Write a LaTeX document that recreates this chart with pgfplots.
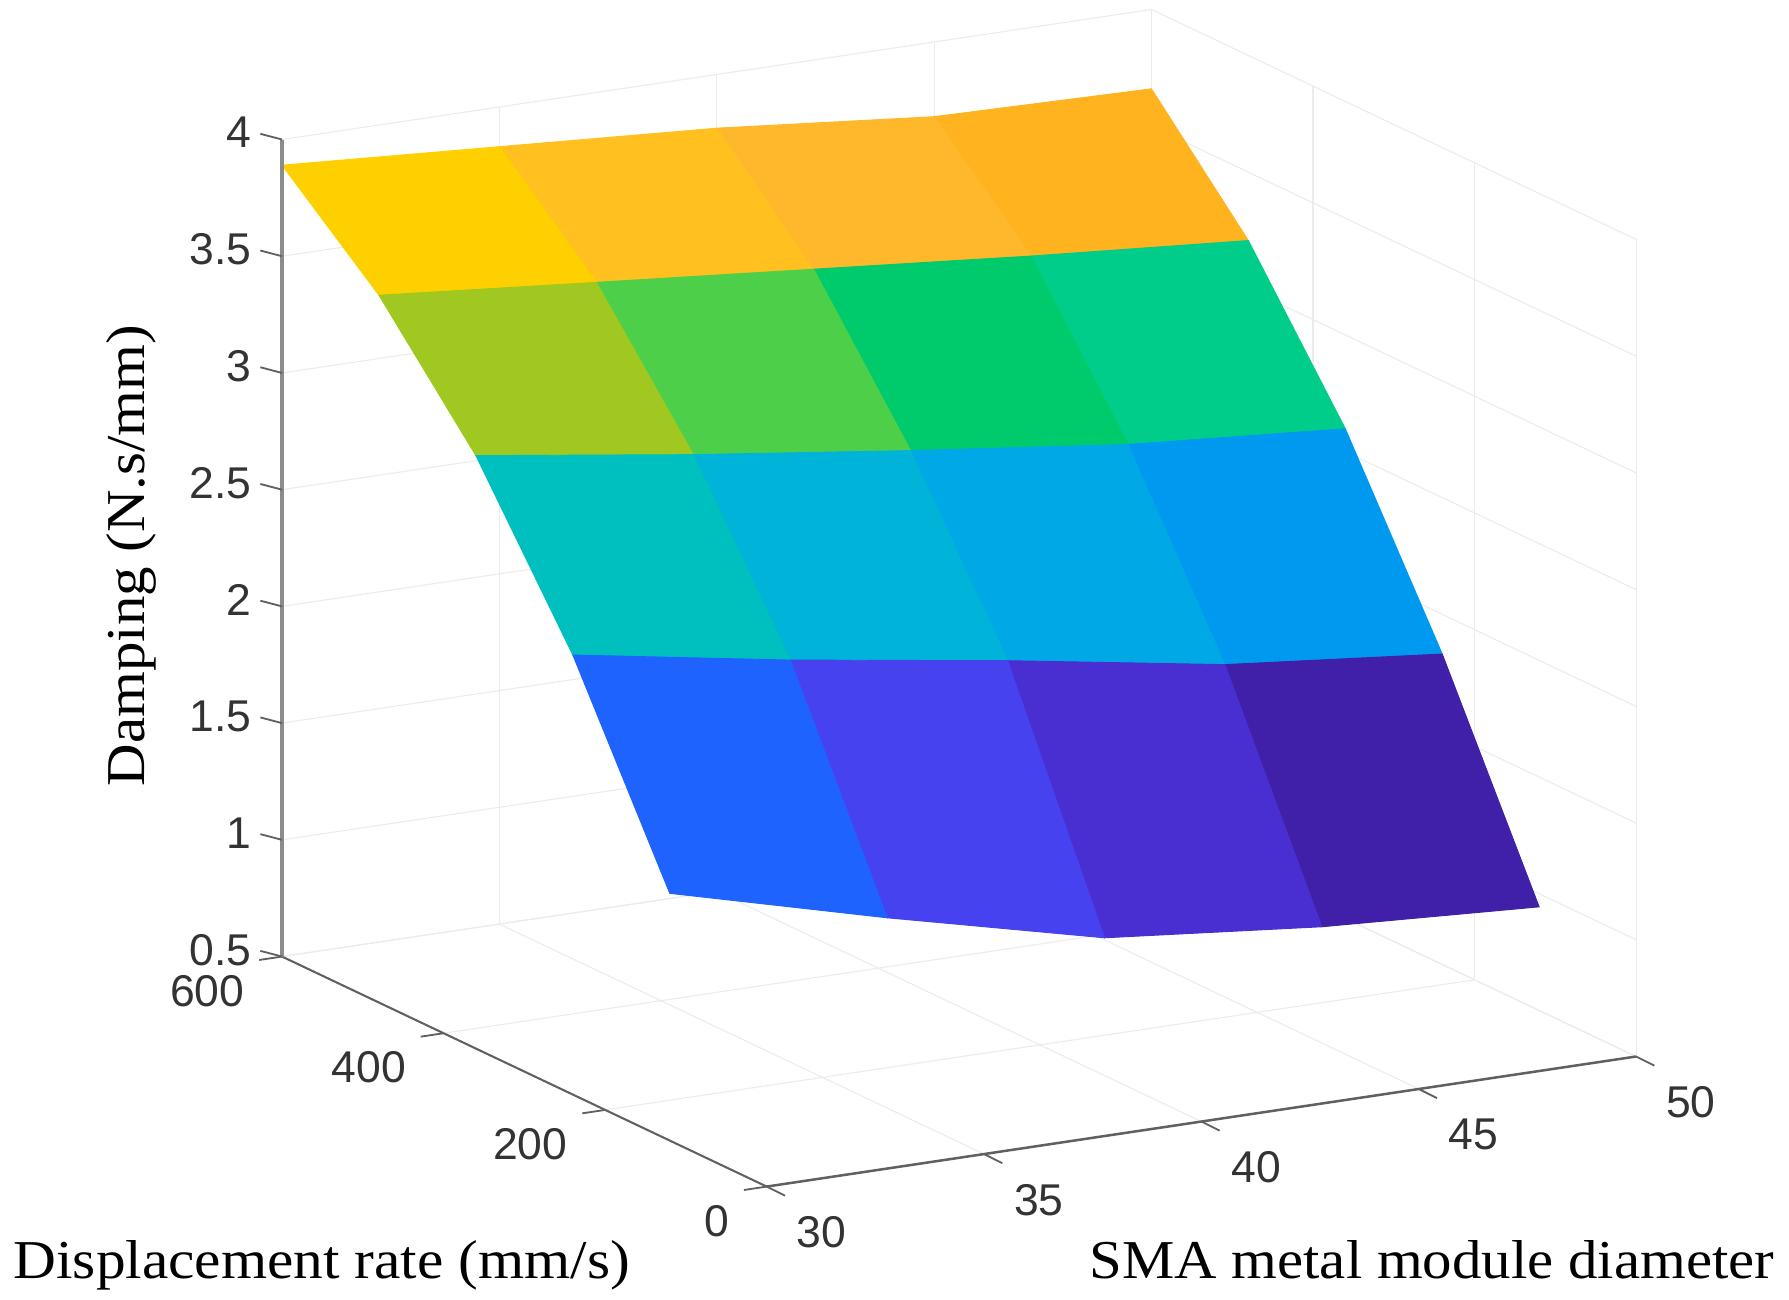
\documentclass[border=0pt]{standalone}
\usepackage{fontspec}
\setmainfont{Liberation Sans}
\newfontfamily\serifl{Liberation Serif}
\usepackage{graphicx}
\usepackage{pgfplots}
\pgfplotsset{compat=1.18}
\definecolor{axc}{HTML}{606060}
\definecolor{grd}{HTML}{ECECEC}
\begin{document}
\begin{tikzpicture}
\begin{axis}[
    x={(19.05pt,2.85pt)},
    y={(-0.354pt,0.168pt)},
    z={(0pt,102.3pt)},
    xmin=30, xmax=50,
    ymin=0, ymax=600,
    zmin=0.5, zmax=4,
    xtick={30,35,40,45,50},
    ytick={0,200,400,600},
    ztick={0.5,1,1.5,2,2.5,3,3.5,4},
    grid=major,
    major grid style={grd, line width=0.5pt},
    axis line style={draw=none},
    major tick length=0pt,
    tick style={draw=none},
    clip=false,
    /pgf/number format/assume math mode=true,
    tick label style={font=\fontsize{19.5}{22}\selectfont, text=black!80},
    xticklabel style={anchor=center, xshift=24pt, yshift=-20pt},
    yticklabel style={anchor=east, xshift=-13pt, yshift=-15pt},
    zticklabel style={anchor=east, xshift=-10pt, yshift=3pt},
]
\addplot3[surf, shader=flat corner, mesh/color input=explicit,
    mesh/rows=5, mesh/cols=5]
table[x=x, y=y, z=z, meta=c] {
x  y   z     c
30 600 3.89  rgb=1,.816,0
35 600 3.83  rgb=1,.753,.125
40 600 3.77  rgb=1,.722,.169
45 600 3.68  rgb=1,.702,.118
50 600 3.66  rgb=1,.702,.118
30 480 3.53  rgb=.627,.784,.125
35 480 3.446 rgb=.302,.812,.29
40 480 3.363 rgb=0,.796,.424
45 480 3.28  rgb=0,.804,.541
50 480 3.207 rgb=0,.804,.541
30 360 3.04  rgb=0,.749,.749
35 360 2.905 rgb=0,.702,.847
40 360 2.783 rgb=0,.659,.902
45 360 2.67  rgb=0,.6,.941
50 360 2.598 rgb=0,.6,.941
30 240 2.383 rgb=.122,.388,1
35 240 2.222 rgb=.275,.259,.941
40 240 2.08  rgb=.286,.18,.824
45 240 1.924 rgb=.251,.125,.659
50 240 1.83  rgb=.251,.125,.659
30 120 1.559 rgb=.122,.388,1
35 120 1.315 rgb=.275,.259,.941
40 120 1.09  rgb=.286,.18,.824
45 120 0.998 rgb=.251,.125,.659
50 120 0.944 rgb=.251,.125,.659
};
% axis lines and ticks
\draw[axc, line width=1.1pt] (axis cs:30,0,0.5) -- (axis cs:50,0,0.5);
\draw[axc, line width=0.9pt] (axis cs:30,0,0.5) -- (axis cs:30,600,0.5);
\draw[black!45, line width=1.4pt] (axis cs:30,600,0.5) -- (axis cs:30,600,4);
\pgfplotsinvokeforeach{30,35,40,45,50}{
    \draw[axc, line width=0.8pt] (axis cs:#1,0,0.5) -- ++(8pt,-4pt);
}
\pgfplotsinvokeforeach{0,200,400,600}{
    \draw[axc, line width=0.8pt] (axis cs:30,#1,0.5) -- ++(-10pt,-1.5pt);
}
\pgfplotsinvokeforeach{0.5,1,1.5,2,2.5,3,3.5,4}{
    \draw[axc, line width=0.8pt] (axis cs:30,600,#1) -- ++(-9.5pt,2.5pt);
}
\coordinate (O) at (axis cs:30,0,0.5);
\end{axis}
\pgfresetboundingbox
\begin{scope}[shift={(O)}, x=0.5pt, y=-0.5pt, shift={(-672,-1040)}]
\path[use as bounding box] (0,0) rectangle (1568,1139);
\node[anchor=base, inner sep=0pt] at (282,1121)
    {\resizebox{270pt}{\height}{\serifl\fontsize{24}{28}\selectfont Displacement rate (mm/s)}};
\node[anchor=base, inner sep=0pt] at (1255,1121)
    {\resizebox{300pt}{\height}{\serifl\fontsize{24}{28}\selectfont SMA metal module diameter}};
\node[anchor=base, inner sep=0pt, rotate=90] at (127,487)
    {\resizebox{202pt}{\height}{\serifl\fontsize{24}{28}\selectfont Damping (N.s/mm)}};
\end{scope}
\end{tikzpicture}
\end{document}
